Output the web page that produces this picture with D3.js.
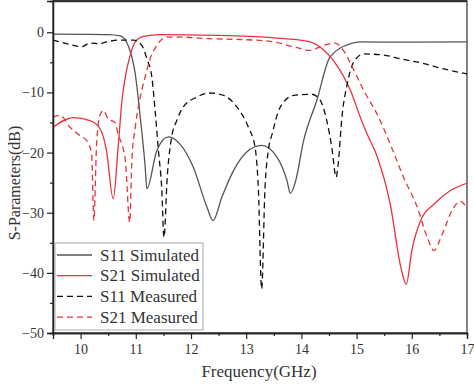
<!DOCTYPE html>
<html>
<head>
<meta charset="utf-8">
<script src="https://cdn.jsdelivr.net/npm/d3@7"></script>
<style>
  body { margin: 0; background: #fff; }
  svg { display: block; }
  text { font-family: "Liberation Serif", "Times New Roman", serif; fill: #333; }
</style>
</head>
<body>
<svg id="chart" width="474" height="384"></svg>
<script>
// readings, [GHz, dB]
var s11Sim = [[9.5,-0.3],[10.0,-0.35],[10.5,-0.4],[10.72,-0.6],[10.87,-2.4],[10.99,-6.9],[11.08,-14.1],[11.17,-22.4],[11.2,-26],
  [11.38,-19.7],[11.59,-17.4],[11.8,-18.6],[12.04,-22.4],[12.29,-29.1],[12.4,-31.3],[12.56,-27.4],[12.77,-23],[13.01,-19.9],
  [13.28,-18.8],[13.56,-20.8],[13.74,-24.7],[13.8,-26.8],[13.89,-24.9],[14.04,-18],[14.28,-11.3],[14.52,-4.1],[14.89,-1.9],
  [15.07,-1.6],[16.0,-1.65],[17.0,-1.6]];
var s21Sim = [[9.5,-15.8],[9.87,-14.2],[10.17,-14.7],[10.35,-16],[10.47,-19.7],[10.59,-27.7],[10.68,-19.1],[10.75,-11.3],
  [10.81,-7.4],[10.89,-4.1],[10.99,-1.6],[11.14,-0.7],[11.44,-0.4],[12.5,-0.5],[13.07,-0.67],[13.68,-1.05],[14.16,-1.6],
  [14.37,-2.7],[14.58,-4.7],[14.89,-9.7],[15.07,-14.2],[15.19,-16.9],[15.37,-20.6],[15.61,-28.6],[15.8,-39],[15.9,-41.9],
  [16.0,-36.3],[16.16,-31.3],[16.4,-28.6],[16.7,-26.3],[17.0,-25.1]];
var s11Meas = [[9.5,-1.3],[9.75,-1.9],[10.02,-2.4],[10.17,-1.8],[10.35,-1.9],[10.47,-1.6],[10.72,-1.3],[10.96,-1.3],
  [11.11,-2.2],[11.2,-4.4],[11.29,-7.4],[11.35,-13],[11.41,-19.7],[11.47,-26],[11.51,-34.1],[11.57,-24],[11.65,-17.4],
  [11.74,-14.7],[11.86,-12.4],[12.1,-10.8],[12.35,-10.1],[12.59,-10.5],[12.83,-12.4],[13.04,-15.8],[13.16,-19.1],[13.22,-26],
  [13.28,-42.7],[13.34,-26],[13.4,-19.7],[13.47,-16.9],[13.62,-12.4],[13.86,-10.5],[14.19,-10.3],[14.34,-11.3],[14.46,-14.7],
  [14.55,-19.1],[14.63,-24.1],[14.66,-22.4],[14.74,-13.6],[14.83,-8.6],[14.95,-4.9],[15.13,-3.6],[15.49,-3.8],[15.79,-4.4],
  [16.22,-5.2],[16.58,-6.1],[17.0,-6.9]];
var s21Meas = [[9.5,-14.1],[9.63,-13.8],[9.81,-15.8],[9.99,-17.2],[10.11,-18],[10.2,-20.2],[10.24,-31.3],[10.29,-18.6],
  [10.35,-13.8],[10.41,-13],[10.5,-14.4],[10.62,-15],[10.68,-16.9],[10.81,-21.3],[10.89,-31.6],[10.93,-21],[10.99,-15.8],
  [11.08,-10.8],[11.17,-7.4],[11.26,-4.4],[11.38,-2.2],[11.56,-0.8],[11.8,-0.8],[12.29,-1.05],[12.89,-1.2],[13.44,-1.5],
  [13.86,-2.4],[14.16,-3],[14.4,-2.2],[14.61,-1.8],[14.76,-3],[14.95,-6.3],[15.13,-9.7],[15.37,-13.6],[15.61,-18.6],
  [15.85,-24.1],[16.1,-29.1],[16.28,-34.1],[16.4,-36.3],[16.55,-33.6],[16.76,-29.1],[16.88,-28.1],[16.97,-28.8]];

var seriesNames = ["S11 Simulated","S21 Simulated","S11 Measured","S21 Measured"];
var seriesData = [s11Sim, s21Sim, s11Meas, s21Meas];
var seriesColor = ["#555555","#e8323c","#111111","#e8323c"];
var seriesDash = [null, null, "6,4", "6,4"];

var xTicks = [10,11,12,13,14,15,16,17];
var yTicks = [0,-10,-20,-30,-40,-50];

var svg = d3.select("#chart");
var plotL = 53, plotR = 467, plotT = 1, plotB = 333;

var x = d3.scaleLinear().domain([9.5,17]).range([plotL,plotR]);
var y = d3.scaleLinear().domain([-50,5.2]).range([plotB,plotT]);

var line = d3.line()
  .x(function(d){ return x(d[0]); })
  .y(function(d){ return y(d[1]); })
  .curve(d3.curveMonotoneX);

// frame
svg.append("rect").attr("x",plotL).attr("y",plotT).attr("width",plotR-plotL).attr("height",plotB-plotT)
  .attr("fill","none").attr("stroke","#333").attr("stroke-width",1.2);
svg.append("line").attr("x1",plotL).attr("x2",plotR).attr("y1",1).attr("y2",1)
  .attr("stroke","#333").attr("stroke-width",2.5);

seriesData.forEach(function(d,i){
  svg.append("path").datum(d)
    .attr("d",line)
    .attr("fill","none")
    .attr("stroke",seriesColor[i])
    .attr("stroke-width",1.3)
    .attr("stroke-dasharray",seriesDash[i]);
});

// axes
svg.append("g").attr("transform","translate(0,"+plotB+")")
  .call(d3.axisBottom(x).tickValues(xTicks).tickSize(6).tickPadding(5).tickFormat(d3.format("d")));
svg.append("g").attr("transform","translate(0,"+plotB+")")
  .call(d3.axisBottom(x).tickValues(d3.range(9.5,17.01,1)).tickSize(3).tickFormat(""));
svg.append("g").attr("transform","translate("+plotL+",0)")
  .call(d3.axisLeft(y).tickValues(yTicks).tickSize(6).tickPadding(3).tickFormat(d3.format("d")));
svg.append("g").attr("transform","translate("+plotL+",0)")
  .call(d3.axisLeft(y).tickValues([-5,-15,-25,-35,-45]).tickSize(3).tickFormat(""));

svg.selectAll(".domain").attr("stroke","#222").attr("stroke-width",1.3);
svg.selectAll(".tick line").attr("stroke","#222").attr("stroke-width",1.2);
svg.selectAll(".tick text").style("font-family","'Liberation Serif', serif").style("font-size","14px").attr("fill","#444");

svg.append("text").attr("x",259).attr("y",377).attr("text-anchor","middle")
  .style("font-size","17px").text("Frequency(GHz)");
svg.append("text").attr("transform","translate(20,183) rotate(-90)").attr("text-anchor","middle")
  .style("font-size","16px").text("S-Parameters(dB)");

// legend
var legend = svg.append("g");
legend.append("rect").attr("x",55).attr("y",243).attr("width",148).attr("height",87)
  .attr("fill","#fff").attr("stroke","#aaa").attr("stroke-width",1);
seriesNames.forEach(function(name,i){
  var ly = 255 + i*20.7;
  legend.append("line").attr("x1",57).attr("x2",92).attr("y1",ly).attr("y2",ly)
    .attr("stroke",seriesColor[i]).attr("stroke-width",1.3).attr("stroke-dasharray",seriesDash[i]);
  legend.append("text").attr("x",100).attr("y",ly+5.5).style("font-size","17px").text(name);
});
</script>
</body>
</html>
